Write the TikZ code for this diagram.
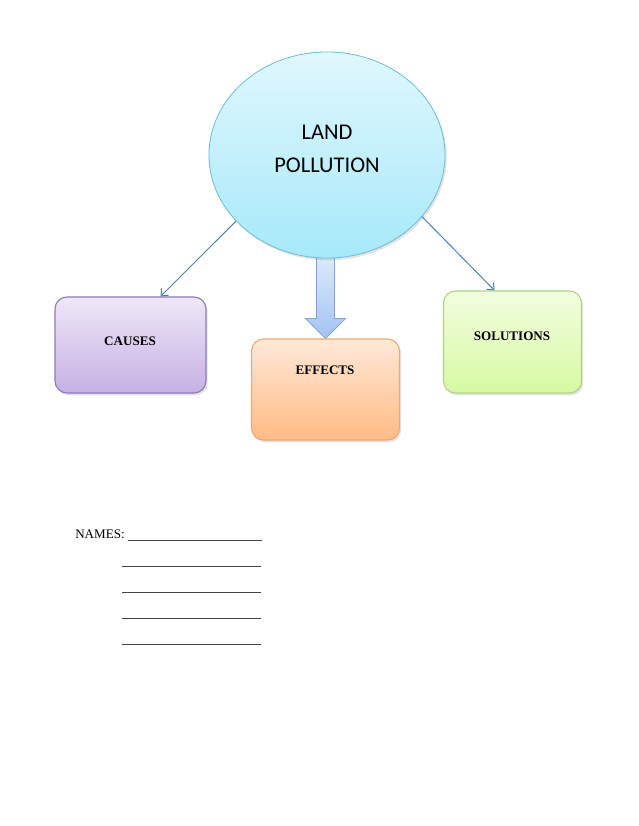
\documentclass[tikz,border=0pt]{standalone}
\usepackage{fontspec}
\setmainfont{Liberation Serif}
\newfontfamily\calibri{Carlito}
\usetikzlibrary{calc,shapes.geometric,shadows,arrows.meta,backgrounds}

\definecolor{bubbletop}{HTML}{E0F7FD}
\definecolor{bubblebot}{HTML}{A6E9FA}
\definecolor{bubbleline}{HTML}{6DBFD6}
\definecolor{linkblue}{HTML}{4A7EBB}
\definecolor{blocktop}{HTML}{DDEBFB}
\definecolor{blockbot}{HTML}{A3C2F2}
\definecolor{blockline}{HTML}{7DA5DC}
\definecolor{causetop}{HTML}{EEE7F8}
\definecolor{causebot}{HTML}{C5B1E3}
\definecolor{causeline}{HTML}{8F7BB8}
\definecolor{effecttop}{HTML}{FFE8D8}
\definecolor{effectbot}{HTML}{FFBB85}
\definecolor{effectline}{HTML}{F2A86E}
\definecolor{solvetop}{HTML}{F2FDE0}
\definecolor{solvebot}{HTML}{D7F9A2}
\definecolor{solveline}{HTML}{B2D28A}
\definecolor{nameline}{HTML}{444444}

\tikzset{
	softshadow/.style={drop shadow={opacity=0.22,shadow xshift=1.2pt,shadow yshift=-1.6pt}},
	landbubble/.style={ellipse,inner sep=0pt,minimum width=5.9cm,minimum height=5.15cm,
		draw=bubbleline,line width=0.6pt,top color=bubbletop,bottom color=bubblebot,softshadow},
	bubbletext/.style={align=center,font=\calibri\fontsize{16}{23}\selectfont,inner sep=0pt},
	card/.style={rectangle,rounded corners=0.3cm,inner sep=0pt,line width=0.8pt,softshadow},
	causebox/.style={card,minimum width=3.775cm,minimum height=2.4cm,draw=causeline,top color=causetop,bottom color=causebot},
	effectbox/.style={card,minimum width=3.7cm,minimum height=2.525cm,draw=effectline,top color=effecttop,bottom color=effectbot},
	solutionbox/.style={card,minimum width=3.45cm,minimum height=2.55cm,draw=solveline,top color=solvetop,bottom color=solvebot},
	boxtext/.style={font=\bfseries\fontsize{9.3}{11}\selectfont,inner sep=0pt},
	link/.style={draw=linkblue,line width=0.7pt,-{Straight Barb[length=4pt,width=7pt]}},
	blockarrow/.style={draw=blockline,line width=0.6pt,top color=blocktop,bottom color=blockbot,line join=miter},
	nametext/.style={font=\fontsize{9.3}{11}\selectfont,inner sep=0pt},
	nameline/.style={draw=nameline,line width=0.7pt}
}

\begin{document}
\begin{tikzpicture}[x=0.025cm,y=-0.025cm]
	%%%%% START %%%%%
	\def\shaft{9}
	\def\headw{20}
	\def\headl{20}
	\def\linegap{26}

	\useasboundingbox (0,0) rectangle (638,826);

	\node[landbubble] (pollution) at (327,155) {};
	\node[bubbletext] (pollutiontext) at ($(pollution)+(0,-6)$) {LAND\\POLLUTION};

	\node[causebox] (causes) at (130.5,345) {};
	\node[boxtext] (causestext) at (130,341) {CAUSES};

	\node[effectbox] (effects) at (325.5,389.5) {};
	\node[boxtext] (effectstext) at (325,370) {EFFECTS};

	\node[solutionbox] (solutions) at (512.5,342) {};
	\node[boxtext] (solutionstext) at (512,336) {SOLUTIONS};

	% thin links
	\draw[link] (pollution.216) -- ([xshift=0.75cm]causes.north);
	\draw[link] (pollution.327) -- ([xshift=-0.45cm]solutions.north);

	% block arrow into effects
	\begin{scope}[on background layer]
		\path[blockarrow] ($(pollution.south -| effects.north)+(-\shaft,-4)$)
			-- ($(effects.north)+(-\shaft,-\headl)$) -- ($(effects.north)+(-\headw,-\headl)$)
			-- (effects.north)
			-- ($(effects.north)+(\headw,-\headl)$) -- ($(effects.north)+(\shaft,-\headl)$)
			-- ($(pollution.south -| effects.north)+(\shaft,-4)$) -- cycle;
	\end{scope}

	% names
	\node[nametext,anchor=base west] (names) at (75,538) {NAMES:};
	\draw[nameline] ($(names.base east)+(3,2)$) -- ++(134,0);
	\foreach \i in {1,...,4}
		\draw[nameline] ($(names.base west)+(47,2+\linegap*\i)$) -- ++(139,0);
	%%%%% START %%%%%
\end{tikzpicture}
\end{document}
